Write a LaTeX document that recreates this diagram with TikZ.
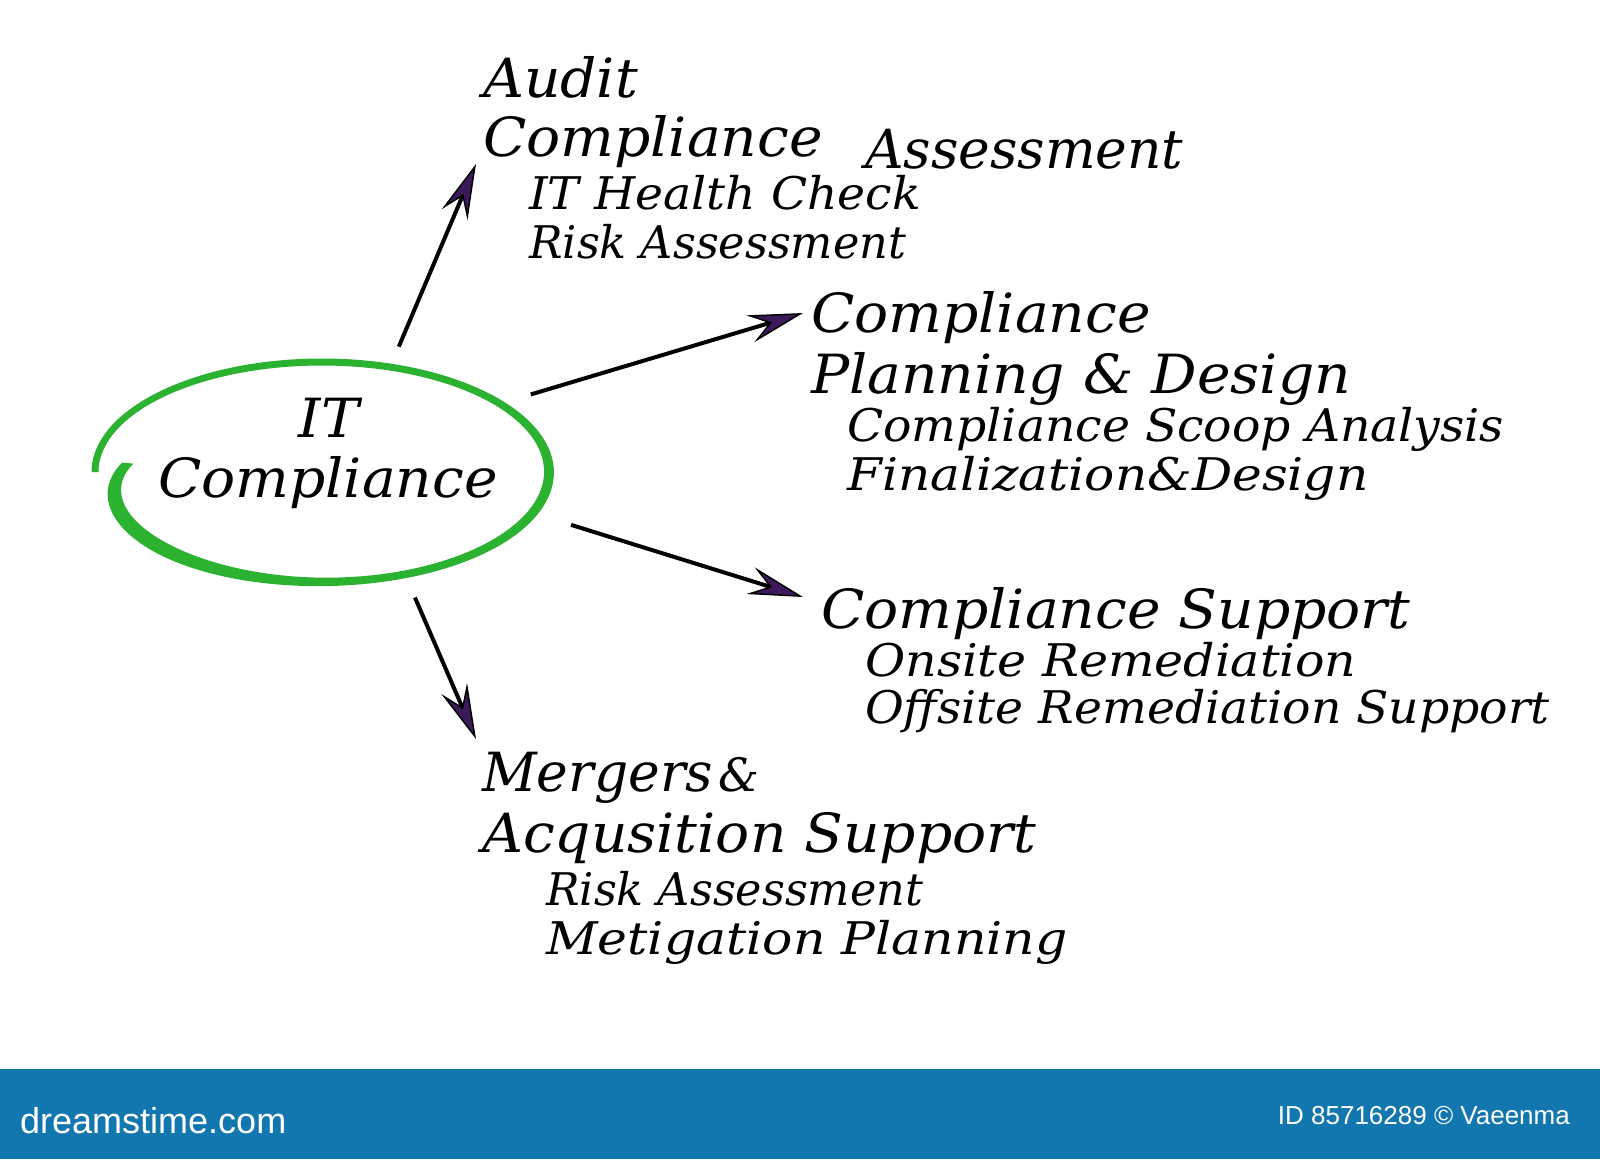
\documentclass[tikz,border=0pt]{standalone}
\usepackage{fontspec}
\usepackage{graphicx}
\usetikzlibrary{arrows.meta,shapes.geometric}
\newfontfamily\bannerfont{Liberation Sans}
\newfontfamily\handfont{DejaVu Serif}
\newcommand\hw[2][1.05]{\scalebox{#1}[1]{#2}}
\definecolor{ringgreen}{RGB}{42,178,48}
\definecolor{tipviolet}{RGB}{60,25,90}
\definecolor{bannerblue}{RGB}{18,118,175}
\tikzset{
  head/.style={anchor=base west, inner sep=0pt, font=\handfont\itshape\fontsize{54}{54}\selectfont},
  sub/.style={head, font=\handfont\itshape\fontsize{45}{45}\selectfont},
  pointer/.style={line width=4pt, -{Stealth[length=55pt,width=28pt,inset=20pt,line width=1.5pt,fill=tipviolet]}},
}
\begin{document}
\begin{tikzpicture}[x=1pt,y=-1pt]
\useasboundingbox (0,0) rectangle (1600,1159);
\fill[white] (0,0) rectangle (1600,1159);

\node[ellipse, minimum width=454pt, minimum height=220pt, inner sep=0pt] (itc) at (322,472) {};
\fill[ringgreen] plot[domain=-180:185, samples=150, smooth] ({322+(227-32*exp((\x-185)/22)+(7+8*exp(-((\x-150)/45)^2)+3*exp(-((\x-10)/45)^2))/2)*cos(\x)}, {472+(110-8*exp((\x-185)/22)+(7+8*exp(-((\x-150)/45)^2)+3*exp(-((\x-10)/45)^2))/2)*sin(\x)})
  -- plot[domain=185:-180, samples=150, smooth] ({322+(227-32*exp((\x-185)/22)-(7+8*exp(-((\x-150)/45)^2)+3*exp(-((\x-10)/45)^2))/2)*cos(\x)}, {472+(110-8*exp((\x-185)/22)-(7+8*exp(-((\x-150)/45)^2)+3*exp(-((\x-10)/45)^2))/2)*sin(\x)}) -- cycle;
\node[head, anchor=base] (itl1) at (329,437) {\hw{IT}};
\node[head, anchor=base] (itl2) at (328,497) {\hw{Compliance}};

\node[head] (au1) at (483,97) {\hw{Audit}};
\node[head] (au2) at (483,156) {\hw{Compliance}};
\node[head] (au3) at (865,168) {\hw[0.99]{Assessment}};
\node[sub] (au4) at (529,209) {\hw{IT Health Check}};
\node[sub] (au5) at (529,258) {\hw[0.99]{Risk Assessment}};

\node[head] (pd1) at (811,332) {\hw{Compliance}};
\node[head] (pd2) at (811,393) {\hw{Planning \& Design}};
\node[sub] (pd3) at (847,441) {\hw{Compliance Scoop Analysis}};
\node[sub] (pd4) at (847,490) {\hw[1.115]{Finalization\&Design}};

\node[head] (cs1) at (821,628) {\hw{Compliance Support}};
\node[sub] (cs2) at (865,676) {\hw[1.09]{Onsite Remediation}};
\node[sub] (cs3) at (865,723) {\hw{Offsite Remediation Support}};

\node[head] (ma1) at (482,791) {\hw[0.99]{Mergers}\hspace{6pt}{\fontsize{46}{46}\selectfont\&}};
\node[head] (ma2) at (482,852) {\hw{Acqusition Support}};
\node[sub] (ma3) at (546,905) {\hw[0.99]{Risk Assessment}};
\node[sub] (ma4) at (546,954) {\hw[1.12]{Metigation Planning}};

\coordinate (t1) at (476,164);
\coordinate (t2) at (803,313);
\coordinate (t3) at (803,597);
\coordinate (t4) at (476,739);
\draw[pointer, shorten <=22pt] (itc.57) -- (t1);
\draw[pointer, shorten <=32pt] (itc.21) -- (t2);
\draw[pointer, shorten <=40pt] (itc.349) -- (t3);
\draw[pointer, shorten <=25pt] (itc.309) -- (t4);

\fill[bannerblue] (0,1069) rectangle (1600,1159);
\node[anchor=base west, inner sep=0pt, text=white, font=\bannerfont\fontsize{36}{36}\selectfont] (dt) at (20,1133) {dreamstime.com};
\node[anchor=base east, inner sep=0pt, text=white, font=\bannerfont\fontsize{26}{26}\selectfont] (id) at (1570,1124) {ID 85716289 © Vaeenma};
\end{tikzpicture}
\end{document}
